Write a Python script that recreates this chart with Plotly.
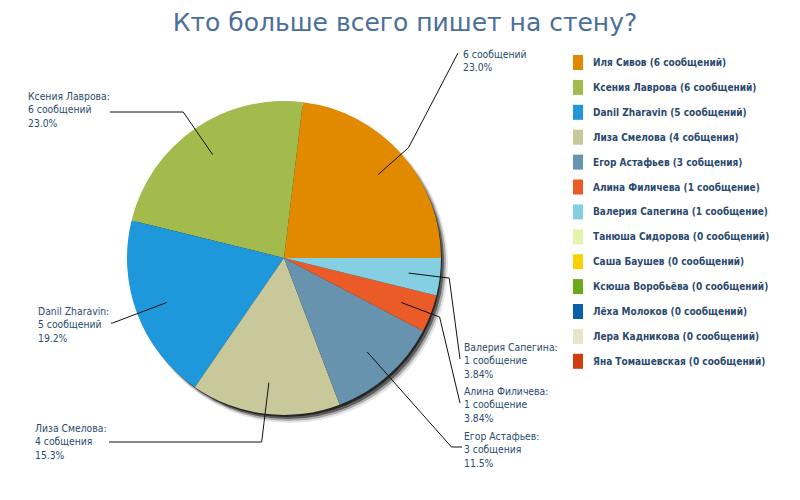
import math
import plotly.graph_objects as go

# ---------------- data ----------------
names = ["Иля Сивов", "Ксения Лаврова", "Danil Zharavin", "Лиза Смелова",
         "Егор Астафьев", "Алина Филичева", "Валерия Сапегина",
         "Танюша Сидорова", "Саша Баушев", "Ксюша Воробьёва",
         "Лёха Молоков", "Лера Кадникова", "Яна Томашевская"]
counts = [6, 6, 5, 4, 3, 1, 1, 0, 0, 0, 0, 0, 0]
count_words = ["6 сообщений", "6 сообщений", "5 сообщений", "4 собщения",
               "3 собщения", "1 сообщение", "1 сообщение", "0 сообщений",
               "0 сообщений", "0 сообщений", "0 сообщений", "0 сообщений",
               "0 сообщений"]
colors = ["#E18A00", "#A3BB4C", "#1F97DB", "#C8C89B", "#6893AF", "#EB5B27",
          "#84CFE2", "#E4F5A9", "#FDD003", "#6BA81A", "#0A5EAC", "#EAE5C8",
          "#D23B0E"]
title_text = "Кто больше всего пишет на стену?"

# ---------------- layout constants (pixels) ----------------
W, H = 800, 500
CX, CY, R = 284, 258, 157
TEXT_COLOR = "#2B4A6E"
LABEL_FONT = "DejaVu Sans Condensed, Liberation Sans, sans-serif"

# per-slice outside label placement: (text_left_x, text_mid_y, mode, end_x, end_y, show_name)
label_layout = {
    0: (463, 60, "edge", 458, 53, False),
    1: (28, 110, "flat", 110, 112, True),
    2: (38, 324, "flat", 111, 323, True),
    3: (35, 441, "flat", 109, 442, True),
    4: (464, 449, "flat", 462, 447, True),
    5: (464, 404, "edge", 460, 403, True),
    6: (464, 360, "edge", 460, 359, True),
}


def px(x):
    return x / W


def py(y):
    return 1 - y / H


def trunc_pct(p):
    digits = max(0, 3 - (int(math.floor(math.log10(p))) + 1))
    val = math.floor(p * 10 ** digits + 1e-9) / 10 ** digits
    return f"{val:.{digits}f}%"


total = sum(counts)
dom_x = [px(CX - R), px(CX + R)]
dom_y = [py(CY + R), py(CY - R)]

fig = go.Figure()

# soft drop shadow (decorative), drawn under the pie
for (dx, dy, op, extra) in [(6, 7, 0.10, 1), (5, 6, 0.25, 0), (4, 5, 0.45, -1), (2, 3, 0.6, -1)]:
    fig.add_trace(go.Pie(
        values=[1], labels=["shadow"], sort=False, textinfo="none",
        marker=dict(colors=["#000000"], line=dict(width=0)),
        opacity=op, hoverinfo="skip", showlegend=False,
        domain=dict(x=[px(CX - R - extra + dx), px(CX + R + extra + dx)],
                    y=[py(CY + R + extra + dy), py(CY - R - extra + dy)]),
    ))

# first slice runs counterclockwise from 3 o'clock
first_angle = 360 * counts[0] / total
fig.add_trace(go.Pie(
    labels=names, values=counts, sort=False, direction="counterclockwise",
    rotation=90 - first_angle, textinfo="none", showlegend=False,
    marker=dict(colors=colors, line=dict(width=0)),
    domain=dict(x=dom_x, y=dom_y),
))

shapes = []
annotations = []

# outside labels with leader lines
cum = 0
for i, v in enumerate(counts):
    if v == 0:
        continue
    mid = math.radians(360 * (cum + v / 2) / total)
    cum += v
    tx, ty, mode, ex, ey, show_name = label_layout[i]
    pct = trunc_pct(100 * v / total)
    lines = ([names[i] + ":"] if show_name else []) + [count_words[i], pct]
    annotations.append(dict(
        x=px(tx - 2), y=py(ty), xref="paper", yref="paper",
        xanchor="left", yanchor="middle", align="left", showarrow=False,
        text="<br>".join(lines),
        font=dict(family=LABEL_FONT, size=10.3, color=TEXT_COLOR),
    ))
    dxu, dyu = math.cos(mid), -math.sin(mid)
    p0 = (CX + 0.8 * R * dxu, CY + 0.8 * R * dyu)
    if mode == "flat":
        t = (ey - p0[1]) / dyu
        p1 = (p0[0] + t * dxu, ey)
    else:
        p1 = (CX + 1.06 * R * dxu, CY + 1.06 * R * dyu)
    path = (f"M {px(p0[0])} {py(p0[1])} L {px(p1[0])} {py(p1[1])} "
            f"L {px(ex)} {py(ey)}")
    shapes.append(dict(type="path", path=path, xref="paper", yref="paper",
                       line=dict(color="#111111", width=1)))

# legend (manual, to match spacing)
LEG_X, LEG_Y0, LEG_DY = 573, 62.5, 24.9
for i, n in enumerate(names):
    yc = LEG_Y0 + i * LEG_DY
    shapes.append(dict(type="rect", xref="paper", yref="paper",
                       x0=px(LEG_X), x1=px(LEG_X + 10),
                       y0=py(yc + 7.5), y1=py(yc - 7.5),
                       fillcolor=colors[i], line=dict(width=0)))
    annotations.append(dict(
        x=px(LEG_X + 20 - 2), y=py(yc), xref="paper", yref="paper",
        xanchor="left", yanchor="middle", align="left", showarrow=False,
        text=f"<b>{n} ({count_words[i]})</b>",
        font=dict(family=LABEL_FONT, size=10, color=TEXT_COLOR),
    ))

fig.update_layout(
    width=W, height=H, margin=dict(l=0, r=0, t=0, b=0),
    paper_bgcolor="white", plot_bgcolor="white",
    title=dict(text=title_text, x=405 / W, y=py(22), xanchor="center",
               yanchor="middle", xref="paper", yref="paper",
               font=dict(family="DejaVu Sans, Verdana, sans-serif", size=25,
                         color="#4B6F99")),
    shapes=shapes, annotations=annotations, showlegend=False,
)

fig.write_html("out.html")
